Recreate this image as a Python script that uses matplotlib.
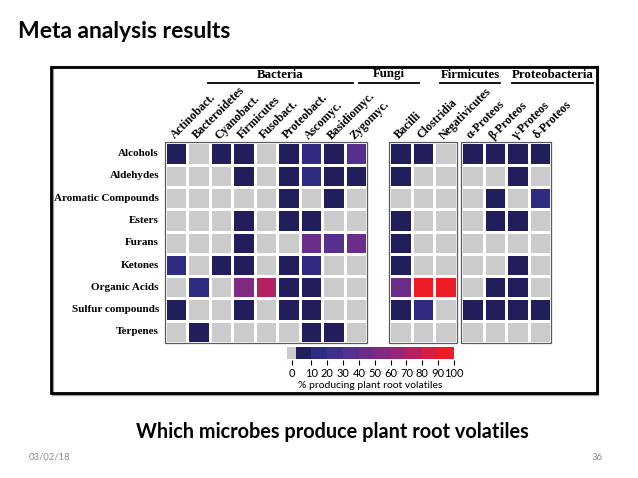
import numpy as np
import matplotlib
matplotlib.use("Agg")
import matplotlib.pyplot as plt
from matplotlib.colors import ListedColormap, BoundaryNorm
from matplotlib.patches import Rectangle
from matplotlib.lines import Line2D

# ---------------- data ----------------
row_labels = ["Alcohols", "Aldehydes", "Aromatic Compounds", "Esters", "Furans",
              "Ketones", "Organic Acids", "Sulfur compounds", "Terpenes"]

group1_cols = ["Actinobact.", "Bacteroidetes", "Cyanobact.", "Firmicutes", "Fusobact.",
               "Proteobact.", "Ascomyc.", "Basidiomyc.", "Zygomyc."]
group2_cols = ["Bacilli", "Clostridia", "Negativicutes"]
group3_cols = ["\u03b1-Proteos", "\u03b2-Proteos", "\u03b3-Proteos", "\u03b4-Proteos"]

# % producing plant root volatiles (0 = none)
group1_vals = [
    [5, 0, 5, 5, 0, 5, 15, 5, 35],
    [0, 0, 0, 5, 0, 5, 15, 5, 5],
    [0, 0, 0, 0, 0, 5, 0, 5, 0],
    [0, 0, 0, 5, 0, 5, 5, 0, 0],
    [0, 0, 0, 5, 0, 0, 45, 35, 45],
    [15, 0, 5, 5, 0, 5, 15, 0, 0],
    [0, 15, 0, 55, 75, 5, 5, 0, 0],
    [5, 0, 0, 5, 0, 5, 5, 0, 0],
    [0, 5, 0, 0, 0, 0, 5, 5, 0],
]
group2_vals = [
    [5, 5, 0],
    [5, 0, 0],
    [0, 0, 0],
    [5, 0, 0],
    [5, 0, 0],
    [5, 0, 0],
    [45, 95, 95],
    [5, 15, 0],
    [0, 0, 0],
]
group3_vals = [
    [5, 5, 5, 5],
    [0, 0, 5, 0],
    [0, 5, 0, 15],
    [0, 5, 5, 0],
    [0, 0, 0, 0],
    [0, 0, 5, 0],
    [0, 5, 5, 0],
    [5, 5, 5, 5],
    [0, 0, 0, 0],
]

header_labels = ["Bacteria", "Fungi", "Firmicutes", "Proteobacteria"]
cbar_ticks = [0, 10, 20, 30, 40, 50, 60, 70, 80, 90, 100]
cbar_label = "% producing plant root volatiles"

title = "Meta analysis results"
subtitle = "Which microbes produce plant root volatiles"
date_text = "03/02/18"
page_text = "36"

# ---------------- style ----------------
band_colors = ["#221e5c", "#2e2b80", "#41308b", "#56308e", "#6b2d8a",
               "#802a82", "#972676", "#b52060", "#d41e42", "#ed1c26"]
cmap = ListedColormap(band_colors)
cmap.set_under("#cbcbcb")
bounds = [0.5, 10, 20, 30, 40, 50, 60, 70, 80, 90, 100]
norm = BoundaryNorm(bounds, cmap.N)

serif = "Liberation Serif"
sans = "Lato"

W, H = 638, 478
fig = plt.figure(figsize=(W / 100, H / 100), dpi=100)

def fx(px):
    return px / W

def fy(py):
    return 1 - py / H

# outer frame with slight shadow
fig.add_artist(Rectangle((fx(52.5), fy(395)), fx(545.5), (328.5) / H, transform=fig.transFigure,
                         fill=False, ec="#9a9a9a", lw=1.6, zorder=0))
fig.add_artist(Rectangle((fx(51.2), fy(393.3)), fx(545.5), (326.6) / H, transform=fig.transFigure,
                         fill=False, ec="black", lw=2.0, zorder=1))

# heatmap axes
x0, x1 = 165, 551
y0, y1 = 142.5, 343
ax = fig.add_axes([fx(x0), fy(y1), fx(x1 - x0), (y1 - y0) / H])
ncols_total = 17.2
ax.set_xlim(0, ncols_total)
ax.set_ylim(len(row_labels), 0)
ax.axis("off")

groups = [(0.0, group1_cols, group1_vals), (10.0, group2_cols, group2_vals), (13.2, group3_cols, group3_vals)]
nrows = len(row_labels)
for start, cols, vals in groups:
    arr = np.array(vals, dtype=float)
    xs = start + np.arange(len(cols) + 1)
    ys = np.arange(nrows + 1)
    ax.pcolormesh(xs, ys, arr, cmap=cmap, norm=norm, edgecolors="white", linewidth=0.9)
    ax.add_patch(Rectangle((start, 0), len(cols), nrows, fill=False, ec="#5a5a5a", lw=0.9,
                           zorder=5, clip_on=False))
    for j, name in enumerate(cols):
        ax.text(start + j + 0.42, -0.14, name, rotation=45, rotation_mode="anchor",
                ha="left", va="baseline", fontsize=8.6, fontweight="bold",
                family=[serif, "DejaVu Serif"], clip_on=False)

for i, name in enumerate(row_labels):
    ax.text(-0.27, i + 0.5, name, ha="right", va="center", fontsize=8.0,
            fontweight="bold", family=serif, clip_on=False)

# group headers
header_spans = [(208, 353), (359, 419), (440, 500), (512, 593)]
for (a, b), name in zip(header_spans, header_labels):
    fig.add_artist(Line2D([fx(a), fx(b)], [fy(82.8), fy(82.8)], transform=fig.transFigure,
                          color="black", lw=1.3))
    fig.text(fx((a + b) / 2), fy(80.5), name, ha="center", va="bottom", fontsize=9.3,
             fontweight="bold", family=serif)

# colour bar
cx0, cx1 = 287, 454
cy0, cy1 = 347, 359.5
cax = fig.add_axes([fx(cx0), fy(cy1), fx(cx1 - cx0), (cy1 - cy0) / H])
lo = -5.3
cax.set_xlim(lo, 100)
cax.set_ylim(0, 1)
band_mid = np.array([[5, 15, 25, 35, 45, 55, 65, 75, 85, 95]], dtype=float)
cax.imshow(band_mid, cmap=cmap, norm=norm, extent=[0, 100, 0, 1], aspect="auto", interpolation="nearest")
cax.imshow(np.array([[0.0]]), cmap=cmap, norm=norm, extent=[lo, 0, 0, 1], aspect="auto")
for s in cax.spines.values():
    s.set_visible(False)
cax.set_yticks([])
tick_pos = [lo / 2 + 0.4] + cbar_ticks[1:]
cax.set_xticks(tick_pos)
cax.set_xticklabels([str(t) for t in cbar_ticks], fontsize=8, family=sans)
cax.tick_params(axis="x", length=3.5, width=0.8, pad=2.5, color="black")
cax.set_xlabel(cbar_label, fontsize=7.5, family=sans, labelpad=1.5)

# slide texts
fig.text(fx(18), fy(32), title, ha="left", va="center", fontsize=16.5, fontweight="bold", family=sans)
fig.text(fx(332), fy(432), subtitle, ha="center", va="center", fontsize=14.3, fontweight="bold", family=sans)
fig.text(fx(29), fy(457), date_text, ha="left", va="center", fontsize=6.8, color="#8c8c8c", family=sans)
fig.text(fx(603), fy(457), page_text, ha="right", va="center", fontsize=6.8, color="#8c8c8c", family=sans)

fig.savefig("out.png", dpi=100)
